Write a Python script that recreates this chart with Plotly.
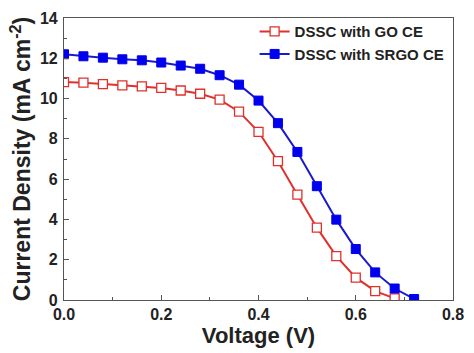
import plotly.graph_objects as go

voltage_go = [0.00, 0.04, 0.08, 0.12, 0.16, 0.20, 0.24, 0.28, 0.32, 0.36, 0.40,
              0.44, 0.48, 0.52, 0.56, 0.60, 0.64, 0.68]
current_go = [10.82, 10.79, 10.72, 10.66, 10.61, 10.53, 10.40, 10.24, 9.95, 9.35, 8.35,
              6.89, 5.23, 3.59, 2.18, 1.11, 0.44, 0.08]

voltage_srgo = [0.00, 0.04, 0.08, 0.12, 0.16, 0.20, 0.24, 0.28, 0.32, 0.36, 0.40,
                0.44, 0.48, 0.52, 0.56, 0.60, 0.64, 0.68, 0.72]
current_srgo = [12.20, 12.10, 12.03, 11.95, 11.90, 11.79, 11.64, 11.48, 11.16, 10.69, 9.90,
                8.78, 7.35, 5.65, 3.99, 2.53, 1.37, 0.57, 0.05]

names = ["DSSC with GO CE", "DSSC with SRGO CE"]
x_ticks = [0.0, 0.2, 0.4, 0.6, 0.8]
y_ticks = [0, 2, 4, 6, 8, 10, 12, 14]

FONT = "Liberation Sans, Arial, sans-serif"

fig = go.Figure()
fig.add_trace(go.Scatter(
    x=voltage_go, y=current_go, name=names[0], mode="lines+markers",
    line=dict(color="#e0302b", width=2),
    marker=dict(symbol="square", size=9, color="white",
                line=dict(color="#e0302b", width=1.3)),
))
fig.add_trace(go.Scatter(
    x=voltage_srgo, y=current_srgo, name=names[1], mode="lines+markers",
    line=dict(color="#1a1acc", width=2),
    marker=dict(symbol="square", size=9, color="#0000ee",
                line=dict(color="#0000ee", width=1)),
))

axis_common = dict(
    showline=True, linecolor="#555555", linewidth=1.2, mirror=True,
    ticks="inside", ticklen=5, tickwidth=1.2, tickcolor="#555555",
    showgrid=False, zeroline=False,
    tickfont=dict(family=FONT, size=16, color="#222222", weight="bold"),
)

fig.update_layout(
    width=474, height=353,
    margin=dict(l=64, r=13, t=10, b=53),
    paper_bgcolor="white", plot_bgcolor="white",
    font=dict(family=FONT, color="#222222"),
    xaxis=dict(
        range=[0, 0.8], tickvals=x_ticks, ticktext=[f"{v:.1f}" for v in x_ticks],
        minor=dict(ticks="inside", ticklen=3, tickcolor="#555555", dtick=0.1, tick0=0),
        title=dict(text="<b>Voltage (V)</b>", font=dict(family=FONT, size=22, color="#222222"), standoff=2),
        **axis_common,
    ),
    yaxis=dict(
        range=[0, 14], tickvals=y_ticks, ticklabelstandoff=2,
        minor=dict(ticks="inside", ticklen=3, tickcolor="#555555", dtick=1, tick0=0),
        title=dict(text="<b>Current Density (mA cm<sup>-2</sup>)</b>",
                   font=dict(family=FONT, size=23, color="#222222"), standoff=2),
        **axis_common,
    ),
    legend=dict(
        x=0.49, y=1.01, xanchor="left", yanchor="top",
        bgcolor="rgba(0,0,0,0)", borderwidth=0,
        font=dict(family=FONT, size=15, color="#222222", weight="bold"),
        itemwidth=30, tracegroupgap=0,
    ),
    showlegend=True,
)

fig.write_html("out.html")
